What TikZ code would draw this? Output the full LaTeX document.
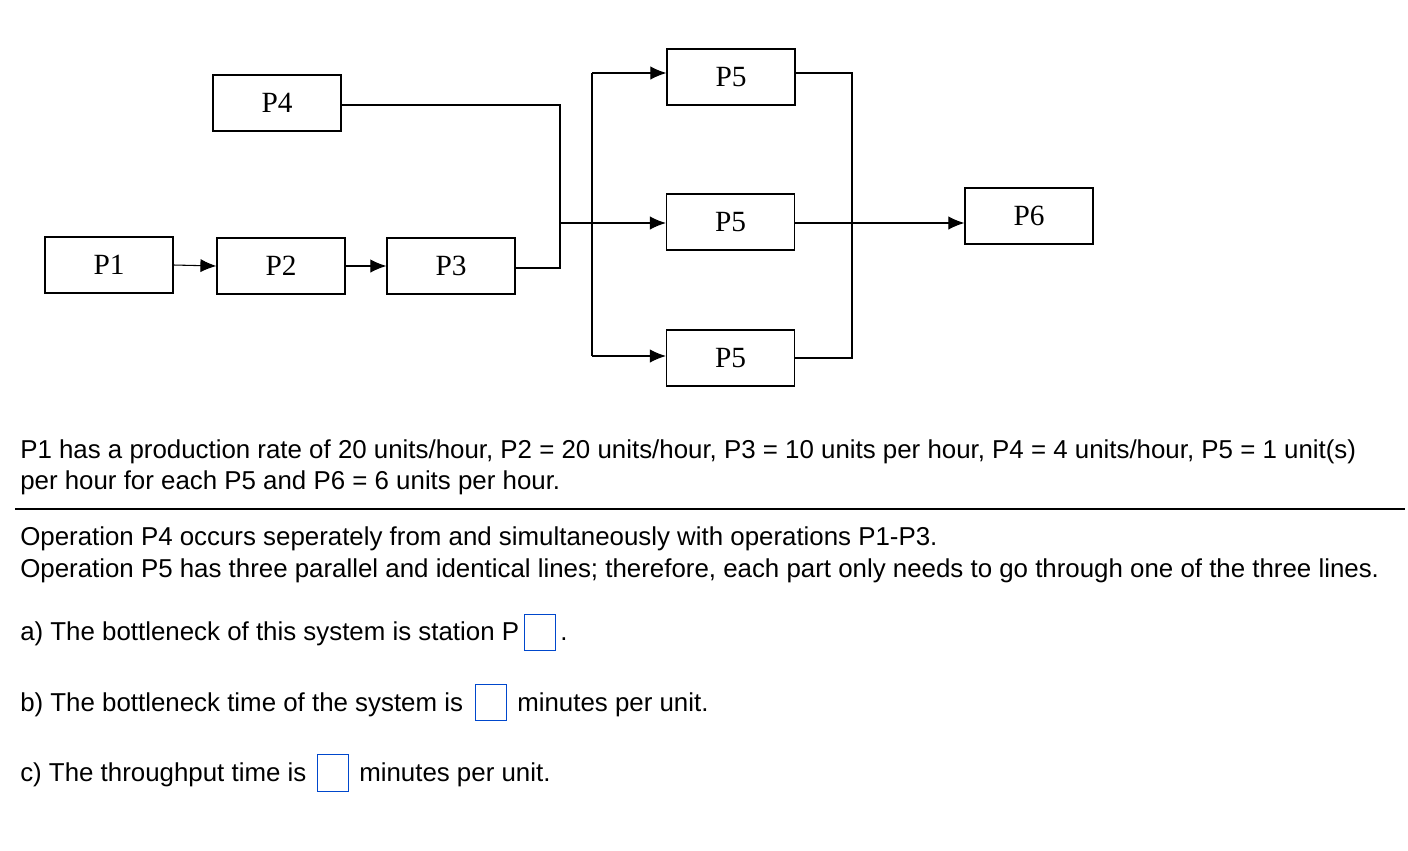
\documentclass[tikz,border=0pt]{standalone}
\usepackage{fontspec}
\setmainfont{Liberation Sans}
\newfontfamily\boxfont{Liberation Serif}
\usetikzlibrary{arrows.meta}
\begin{document}
\begin{tikzpicture}[x=0.75pt,y=-0.75pt,
  proc/.style={draw,line width=0.9pt,minimum width=96pt,minimum height=42pt,inner sep=0pt,font=\boxfont\fontsize{22}{24}\selectfont},
  conn/.style={line width=0.8pt},
  arr/.style={conn,-{Latex[length=12pt,width=10pt]}},
  txt/.style={anchor=base west,inner sep=0pt,font=\fontsize{19.4}{22}\selectfont},
  ans/.style={draw=blue!65!cyan!80!black,line width=0.8pt,minimum width=23pt,minimum height=27.5pt,inner sep=0pt}]
\useasboundingbox (0,0) rectangle (1408,850);
\node[proc] (p4) at (277,103) {P4};
\node[proc] (p1) at (109,265) {P1};
\node[proc] (p2) at (281,266) {P2};
\node[proc] (p3) at (451,266) {P3};
\node[proc] (p5a) at (731,77) {P5};
\node[proc] (p5b) at (730.5,222) {P5};
\node[proc] (p5c) at (730.5,358) {P5};
\node[proc] (p6) at (1029,216) {P6};
\coordinate (j1) at (560,223);
\coordinate (j2) at (592,223);
\coordinate (j3) at (852,223);
\draw[arr] (p1.east) -- (p2.west);
\draw[arr] (p2.east) -- (p3.west);
\draw[conn] (p4.east |- 0,105) -| (j1);
\draw[conn] (p3.east |- 0,268) -| (j1);
\draw[conn] (j1) -- (j2);
\draw[arr] (j2 |- 0,73) -- (p5a.west |- 0,73);
\draw[conn] (j2 |- 0,73) -- (j2 |- 0,356);
\draw[arr] (j2) -- (p5b.west |- j2);
\draw[arr] (j2 |- 0,356) -- (p5c.west |- 0,356);
\draw[conn] (p5a.east |- 0,73) -| (j3 |- 0,358) -- (p5c.east |- 0,358);
\draw[arr] (p5b.east |- j3) -- (p6.west |- j3);
\node[txt] (t1) at (20,458) {P1 has a production rate of 20 units/hour, P2 = 20 units/hour, P3 = 10 units per hour, P4 = 4 units/hour, P5 = 1 unit(s)};
\node[txt] (t2) at (20,489) {per hour for each P5 and P6 = 6 units per hour.};
\draw[line width=0.9pt] (15,509) -- (1405,509);
\node[txt] (t3) at (20,545) {Operation P4 occurs seperately from and simultaneously with operations P1-P3.};
\node[txt] (t4) at (20,577) {Operation P5 has three parallel and identical lines; therefore, each part only needs to go through one of the three lines.};
\node[txt] (t5) at (20,640) {a) The bottleneck of this system is station P};
\node[ans] (b1) at (540,632.5) {};
\node[txt] (t5b) at (560,640) {.};
\node[txt] (t6) at (20,711) {b) The bottleneck time of the system is};
\node[ans] (b2) at (491,702.5) {};
\node[txt] (t6b) at (517,711) {minutes per unit.};
\node[txt] (t7) at (20,781) {c) The throughput time is};
\node[ans] (b3) at (333,773) {};
\node[txt] (t7b) at (359,781) {minutes per unit.};
\end{tikzpicture}
\end{document}
